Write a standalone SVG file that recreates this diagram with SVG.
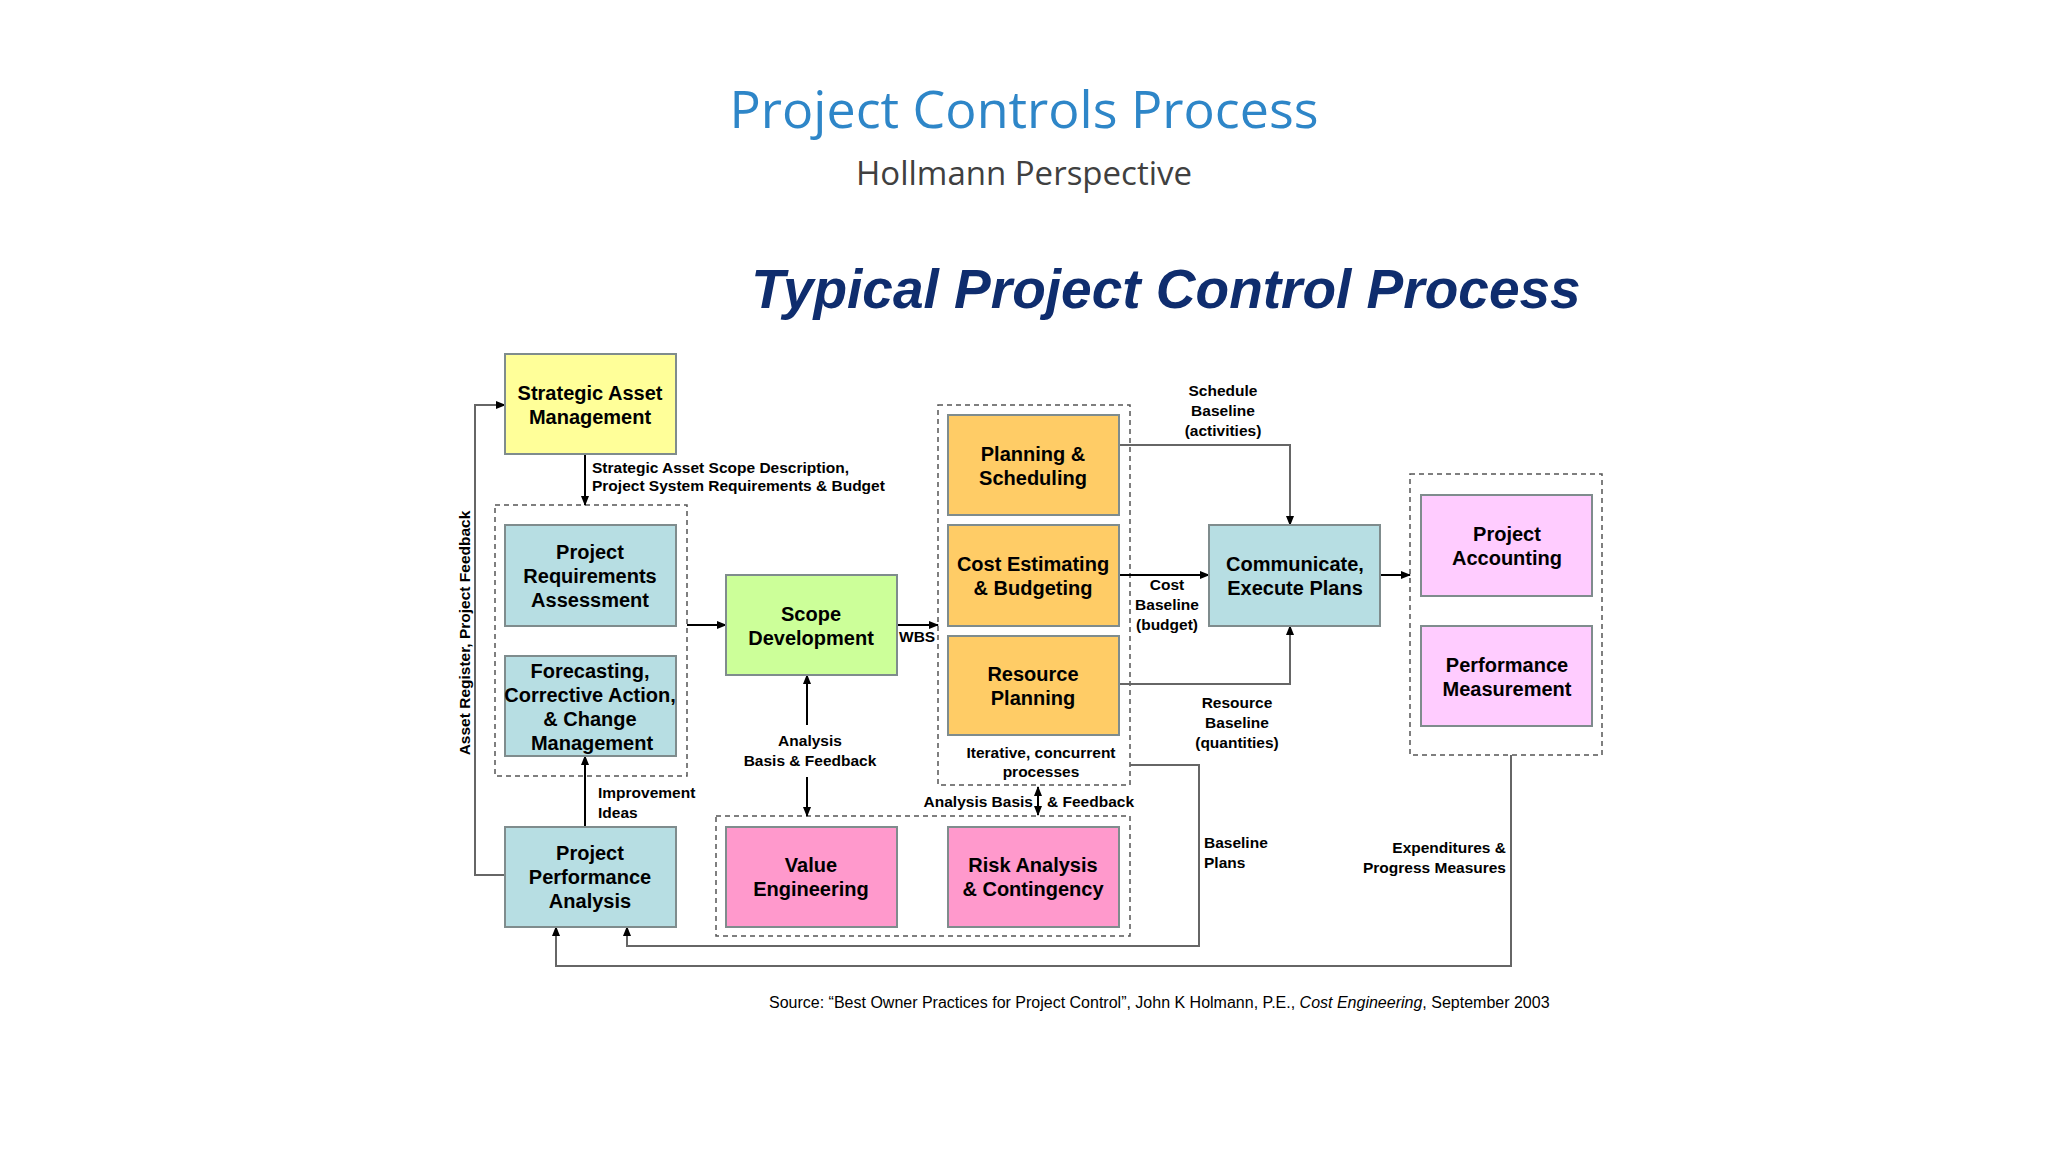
<svg xmlns="http://www.w3.org/2000/svg" width="2048" height="1152" viewBox="0 0 2048 1152">
<defs>
<marker id="ah" markerWidth="10" markerHeight="10" refX="9" refY="5" orient="auto" markerUnits="userSpaceOnUse"><path d="M0,1 L10,5 L0,9 Z" fill="#000"/></marker>
<marker id="ahs" markerWidth="10" markerHeight="10" refX="1" refY="5" orient="auto" markerUnits="userSpaceOnUse"><path d="M10,1 L0,5 L10,9 Z" fill="#000"/></marker>
</defs>
<style>
.box{stroke:#7f8c8d;stroke-width:2}
.grp{fill:none;stroke:#555;stroke-width:1.5;stroke-dasharray:5,4}
.bt{font-family:"Liberation Sans",Arial,sans-serif;font-weight:bold;font-size:20px;text-anchor:middle;fill:#000}
.lb{font-family:"Liberation Sans",Arial,sans-serif;font-size:15.5px;fill:#000;font-weight:bold}
.c{text-anchor:middle}
.ln{fill:none;stroke:#000;stroke-width:2}
.lg{fill:none;stroke:#666;stroke-width:2}
</style>
<rect width="2048" height="1152" fill="#fff"/>
<text x="1024" y="128" font-family="'Open Sans','Noto Sans',sans-serif" font-size="52" fill="#2E86C8" text-anchor="middle">Project Controls Process</text>
<text x="1024" y="185" font-family="'Open Sans','Noto Sans',sans-serif" font-size="33" fill="#404040" text-anchor="middle">Hollmann Perspective</text>
<text x="1166" y="308" font-family="'Liberation Sans',Arial,sans-serif" font-size="55" font-weight="bold" font-style="italic" fill="#0F2D6E" text-anchor="middle">Typical Project Control Process</text>

<g id="groups">
<rect class="grp" x="495" y="505" width="192" height="271"/>
<rect class="grp" x="938" y="405" width="192" height="380"/>
<rect class="grp" x="1410" y="474" width="192" height="281"/>
<rect class="grp" x="716" y="816" width="414" height="120"/>
</g>

<g id="connectors">
<line class="ln" x1="585" y1="454" x2="585" y2="505" marker-end="url(#ah)"/>
<polyline class="lg" points="505,875 475,875 475,405 505,405" marker-end="url(#ah)"/>
<line class="ln" x1="687" y1="625" x2="726" y2="625" marker-end="url(#ah)"/>
<line class="ln" x1="897" y1="625" x2="938" y2="625" marker-end="url(#ah)"/>
<line class="ln" x1="807" y1="725" x2="807" y2="675" marker-end="url(#ah)"/>
<line class="ln" x1="807" y1="777" x2="807" y2="816" marker-end="url(#ah)"/>
<polyline class="lg" points="1119,445 1290,445 1290,525" marker-end="url(#ah)"/>
<line class="ln" x1="1119" y1="575" x2="1209" y2="575" marker-end="url(#ah)"/>
<polyline class="lg" points="1119,684 1290,684 1290,626" marker-end="url(#ah)"/>
<line class="ln" x1="1380" y1="575" x2="1410" y2="575" marker-end="url(#ah)"/>
<line class="ln" x1="1038" y1="787" x2="1038" y2="815" marker-start="url(#ahs)" marker-end="url(#ah)"/>
<polyline class="lg" points="1130,765 1199,765 1199,946 627,946 627,927" marker-end="url(#ah)"/>
<polyline class="lg" points="1511,755 1511,966 556,966 556,927" marker-end="url(#ah)"/>
<line class="ln" x1="585" y1="827" x2="585" y2="756" marker-end="url(#ah)"/>
</g>

<g id="labels">
<text class="lb" x="592" y="473">Strategic Asset Scope Description,</text>
<text class="lb" x="592" y="491">Project System Requirements &amp; Budget</text>
<text class="lb" transform="translate(470,633) rotate(-90)" text-anchor="middle">Asset Register, Project Feedback</text>
<text class="lb" x="899" y="642" font-size="17">WBS</text>
<text class="lb c" x="810" y="746">Analysis</text>
<text class="lb c" x="810" y="766">Basis &amp; Feedback</text>
<text class="lb c" x="1223" y="396">Schedule</text>
<text class="lb c" x="1223" y="416">Baseline</text>
<text class="lb c" x="1223" y="436">(activities)</text>
<text class="lb c" x="1167" y="590">Cost</text>
<text class="lb c" x="1167" y="610">Baseline</text>
<text class="lb c" x="1167" y="630">(budget)</text>
<text class="lb c" x="1237" y="708">Resource</text>
<text class="lb c" x="1237" y="728">Baseline</text>
<text class="lb c" x="1237" y="748">(quantities)</text>
<text class="lb c" x="1041" y="758">Iterative, concurrent</text>
<text class="lb c" x="1041" y="777">processes</text>
<text class="lb" x="1033" y="807" text-anchor="end">Analysis Basis</text>
<text class="lb" x="1047" y="807">&amp; Feedback</text>
<text class="lb" x="1204" y="848">Baseline</text>
<text class="lb" x="1204" y="868">Plans</text>
<text class="lb" x="1506" y="853" text-anchor="end">Expenditures &amp;</text>
<text class="lb" x="1506" y="873" text-anchor="end">Progress Measures</text>
<text class="lb" x="598" y="798">Improvement</text>
<text class="lb" x="598" y="818">Ideas</text>
<text x="769" y="1008" font-family="'Liberation Sans',Arial,sans-serif" font-size="16" fill="#000">Source:  “Best Owner Practices for Project Control”, John K Holmann, P.E., <tspan font-style="italic">Cost Engineering</tspan>, September 2003</text>
</g>

<g id="sam"><rect class="box" x="505" y="354" width="171" height="100" fill="#FFFF99"/><text class="bt" x="590" y="400">Strategic Asset</text><text class="bt" x="590" y="424">Management</text></g>
<g id="pra"><rect class="box" x="505" y="525" width="171" height="101" fill="#B7DEE3"/><text class="bt" x="590" y="559">Project</text><text class="bt" x="590" y="583">Requirements</text><text class="bt" x="590" y="607">Assessment</text></g>
<g id="fcm"><rect class="box" x="505" y="656" width="171" height="100" fill="#B7DEE3"/><text class="bt" x="590" y="678">Forecasting,</text><text class="bt" x="590" y="702">Corrective Action,</text><text class="bt" x="590" y="726">&amp; Change</text><text class="bt" x="592" y="750">Management</text></g>
<g id="ppa"><rect class="box" x="505" y="827" width="171" height="100" fill="#B7DEE3"/><text class="bt" x="590" y="860">Project</text><text class="bt" x="590" y="884">Performance</text><text class="bt" x="590" y="908">Analysis</text></g>
<g id="scope"><rect class="box" x="726" y="575" width="171" height="100" fill="#CCFF99"/><text class="bt" x="811" y="621">Scope</text><text class="bt" x="811" y="645">Development</text></g>
<g id="ps"><rect class="box" x="948" y="415" width="171" height="100" fill="#FFCC66"/><text class="bt" x="1033" y="461">Planning &amp;</text><text class="bt" x="1033" y="485">Scheduling</text></g>
<g id="ceb"><rect class="box" x="948" y="525" width="171" height="101" fill="#FFCC66"/><text class="bt" x="1033" y="571">Cost Estimating</text><text class="bt" x="1033" y="595">&amp; Budgeting</text></g>
<g id="rp"><rect class="box" x="948" y="636" width="171" height="99" fill="#FFCC66"/><text class="bt" x="1033" y="681">Resource</text><text class="bt" x="1033" y="705">Planning</text></g>
<g id="comm"><rect class="box" x="1209" y="525" width="171" height="101" fill="#B7DEE3"/><text class="bt" x="1295" y="571">Communicate,</text><text class="bt" x="1295" y="595">Execute Plans</text></g>
<g id="pa"><rect class="box" x="1421" y="495" width="171" height="101" fill="#FFCCFF"/><text class="bt" x="1507" y="541">Project</text><text class="bt" x="1507" y="565">Accounting</text></g>
<g id="pm"><rect class="box" x="1421" y="626" width="171" height="100" fill="#FFCCFF"/><text class="bt" x="1507" y="672">Performance</text><text class="bt" x="1507" y="696">Measurement</text></g>
<g id="ve"><rect class="box" x="726" y="827" width="171" height="100" fill="#FF99CC"/><text class="bt" x="811" y="872">Value</text><text class="bt" x="811" y="896">Engineering</text></g>
<g id="ra"><rect class="box" x="948" y="827" width="171" height="100" fill="#FF99CC"/><text class="bt" x="1033" y="872">Risk Analysis</text><text class="bt" x="1033" y="896">&amp; Contingency</text></g>
</svg>
